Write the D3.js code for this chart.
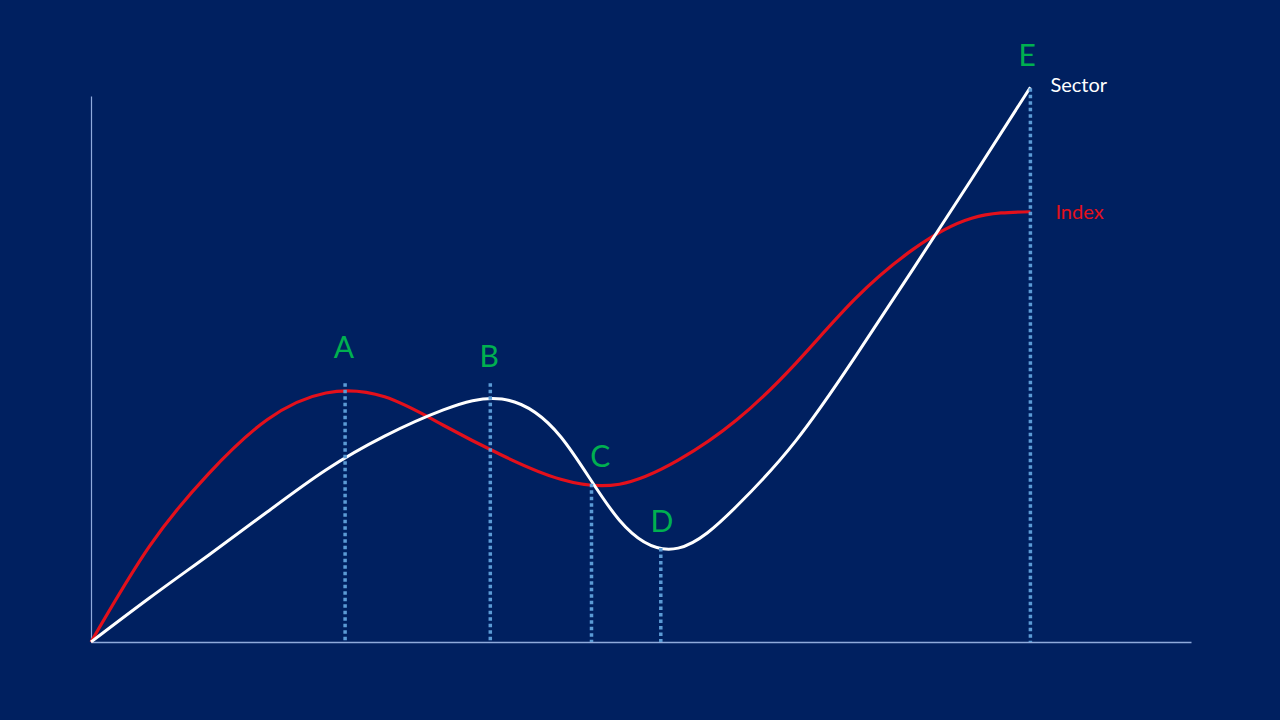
<!DOCTYPE html>
<html>
<head>
<meta charset="utf-8">
<script src="https://cdn.jsdelivr.net/npm/d3@7"></script>
<style>
  html, body { margin: 0; padding: 0; background: #002060; }
  svg { display: block; }
</style>
</head>
<body>
<svg id="chart" width="1280" height="720"></svg>
<script>
// Readings at evenly spaced x positions (chart units: x 0..100, y 0..100)
const sampleX = [0, 5.34, 10.68, 16.01, 21.35, 26.69, 32.03, 37.36, 42.70, 48.04, 53.38, 58.71, 64.05, 69.39, 74.73, 80.06, 85.4];

// Index (red) curve
const indexY = [0, 17.6, 30.8, 40.7, 45.6, 44.9, 39.7, 34.2, 29.8, 28.9, 33.3, 40.7, 51.0, 62.7, 71.9, 77.6, 78.8];

// Sector (white) curve
const sectorY = [0, 8.1, 15.9, 23.8, 31.5, 37.7, 42.5, 44.5, 37.6, 22.3, 17.2, 24.9, 36.8, 52.0, 68.3, 84.8, 101.6];

// Marker lines and labels
const markerNames = ["A", "B", "C", "D", "E"];
const markerX = [23.1, 36.3, 45.5, 51.8, 85.4];
const markerTop = [47.4, 47.4, 29.0, 17.2, 101.4];
const labelX = [23.0, 36.2, 46.3, 51.9, 85.1];
const labelY = [52.0, 50.4, 32.1, 20.1, 105.5];

// Series names
const seriesNames = ["Sector", "Index"];

const svg = d3.select("#chart");
svg.append("rect").attr("width", 1280).attr("height", 720).attr("fill", "#002060");

const x = d3.scaleLinear().domain([0, 100]).range([91, 1191]);
const y = d3.scaleLinear().domain([0, 100]).range([642, 96]);

// axes
const xAxis = svg.append("g").attr("transform", `translate(0,${y(0)})`)
  .call(d3.axisBottom(x).ticks(0).tickSize(0).tickSizeOuter(0));
xAxis.select(".domain").attr("stroke", "#8FAADC").attr("stroke-width", 1.5);
const yAxis = svg.append("g").attr("transform", `translate(${x(0)},0)`)
  .call(d3.axisLeft(y).ticks(0).tickSize(0).tickSizeOuter(0));
yAxis.select(".domain").attr("stroke", "#8FAADC").attr("stroke-width", 1.2);

const line = d3.line().x(d => x(d[0])).y(d => y(d[1])).curve(d3.curveNatural);

const indexData = sampleX.map((v, i) => [v, indexY[i]]);
const sectorData = sampleX.map((v, i) => [v, sectorY[i]]);

svg.append("path").datum(indexData).attr("d", line)
  .attr("fill", "none").attr("stroke", "#E3101B").attr("stroke-width", 3.2);
svg.append("path").datum(sectorData).attr("d", line)
  .attr("fill", "none").attr("stroke", "#FFFFFF").attr("stroke-width", 3);

// dotted marker lines
svg.selectAll("line.marker").data(markerNames).enter().append("line")
  .attr("class", "marker")
  .attr("x1", (d, i) => x(markerX[i])).attr("x2", (d, i) => x(markerX[i]))
  .attr("y1", (d, i) => y(markerTop[i])).attr("y2", y(0))
  .attr("stroke", "#5B9BD5").attr("stroke-width", 3.5).attr("stroke-dasharray", "3.5,3");

// marker labels
svg.selectAll("text.mlabel").data(markerNames).enter().append("text")
  .attr("class", "mlabel")
  .attr("x", (d, i) => x(labelX[i])).attr("y", (d, i) => y(labelY[i]))
  .attr("text-anchor", "middle")
  .attr("font-family", "Lato, 'Open Sans', sans-serif")
  .attr("font-size", 30)
  .attr("fill", "#00B050")
  .text(d => d);

// series labels
const last = sampleX.length - 1;
svg.append("text")
  .attr("x", x(sampleX[last]) + 20)
  .attr("y", y(sectorY[last]) + 5)
  .attr("font-family", "Lato, 'Open Sans', sans-serif")
  .attr("font-size", 20).attr("fill", "#FFFFFF").text(seriesNames[0]);
svg.append("text")
  .attr("x", x(sampleX[last]) + 25)
  .attr("y", y(indexY[last]) + 7)
  .attr("font-family", "Lato, 'Open Sans', sans-serif")
  .attr("font-size", 20).attr("fill", "#E3101B").text(seriesNames[1]);
</script>
</body>
</html>
